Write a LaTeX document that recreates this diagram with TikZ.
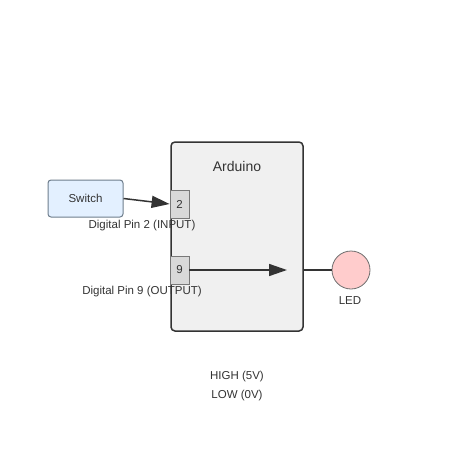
\documentclass[tikz,border=0pt]{standalone}
\usepackage{fontspec}
\setmainfont{Liberation Sans}
\usepackage{xcolor}
\usetikzlibrary{positioning, arrows.meta}
\definecolor{boardfill}{RGB}{240, 240, 240}
\definecolor{boarddraw}{RGB}{51, 51, 51}
\definecolor{swfill}{RGB}{227, 240, 255}
\definecolor{swdraw}{RGB}{110, 125, 140}
\definecolor{pinfill}{RGB}{217, 217, 217}
\definecolor{pindraw}{RGB}{120, 120, 120}
\definecolor{ledfill}{RGB}{255, 204, 204}
\definecolor{leddraw}{RGB}{110, 110, 110}
\definecolor{txtgray}{RGB}{51, 51, 51}
\tikzset{
  board/.style={rounded corners=4pt, draw=boarddraw, fill=boardfill, line width=1.5pt,
                minimum width=132pt, minimum height=189pt, inner sep=0pt},
  swbox/.style={rounded corners=3pt, draw=swdraw, fill=swfill, line width=1pt,
                minimum width=75pt, minimum height=37pt, inner sep=0pt,
                font=\fontsize{11.5}{13}\selectfont, text=txtgray},
  pin/.style={draw=pindraw, fill=pinfill, line width=0.8pt,
              minimum width=19pt, minimum height=28pt, inner sep=0pt,
              font=\fontsize{11.5}{13}\selectfont, text=txtgray},
  lamp/.style={circle, draw=leddraw, fill=ledfill, line width=0.8pt,
               minimum size=38pt, inner sep=0pt},
  wire/.style={draw=boarddraw, line width=1.5pt},
  arr/.style={wire, -{Triangle[length=18pt, width=12pt]}},
  lbl/.style={font=\fontsize{11.5}{13}\selectfont, text=txtgray, inner sep=0pt},
}
\begin{document}
\begin{tikzpicture}[x=1pt, y=-1pt]
  \useasboundingbox (0, 0) rectangle (474, 474);
  % board and pins
  \node[board] (arduino) at (237, 236.5) {};
  \node[lbl, font=\fontsize{14}{16}\selectfont] (title) at (237, 166) {Arduino};
  \node[pin] (pinTwo) at (179.5, 204) {2};
  \node[pin] (pinNine) at (179.5, 270) {9};
  \node[lbl] (pinTwoLbl) at (142, 225.5) {Digital Pin 2 (INPUT)};
  \node[lbl] (pinNineLbl) at (142, 291.5) {Digital Pin 9 (OUTPUT)};

  % input side
  \node[swbox] (switch) at (85.5, 198.5) {Switch};
  \draw[arr] (switch.east) -- (pinTwo.west);

  % output side
  \coordinate (outEnd) at (287, 270);
  \draw[arr] (pinNine.east) -- (outEnd);
  \node[lamp] (led) at (351, 270) {};
  \node[lbl] (ledLbl) at (350, 300.5) {LED};
  \draw[wire] (arduino.east |- led) -- (led.west);

  % signal levels
  \node[lbl] (high) at (237, 376.5) {HIGH (5V)};
  \node[lbl] (low) at (237, 395.5) {LOW (0V)};
\end{tikzpicture}
\end{document}
